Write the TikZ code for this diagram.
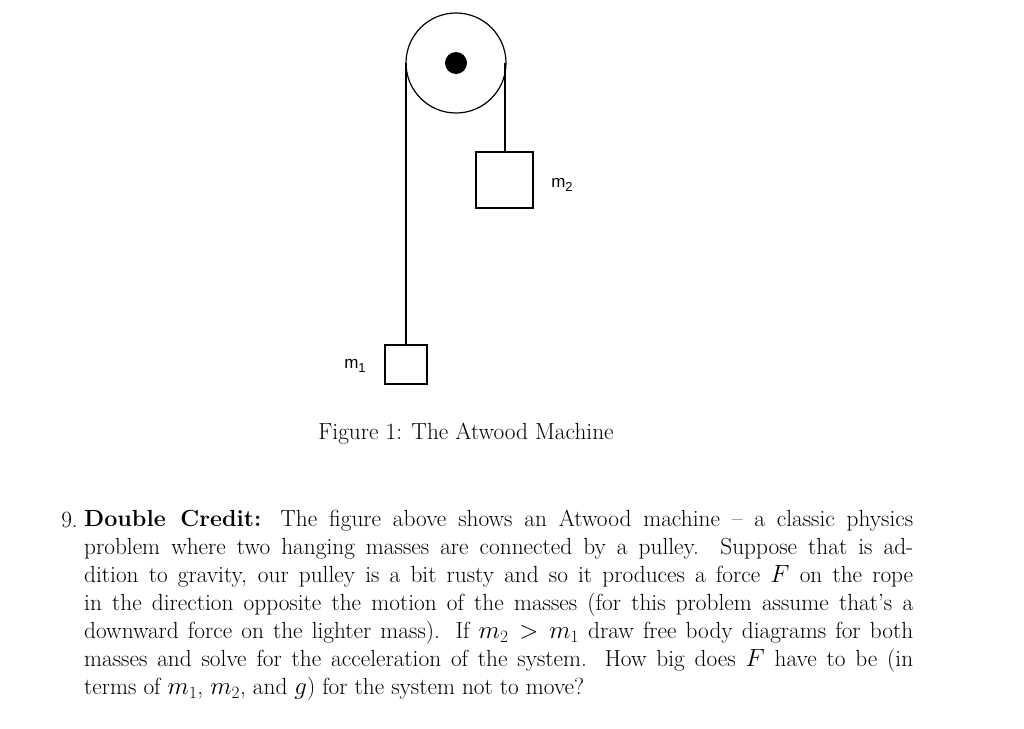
\documentclass[tikz,border=0pt]{standalone}
\usepackage{fontspec}
\newfontfamily\lblfont{Liberation Sans}
\begin{document}
\begin{tikzpicture}[x=1pt,y=1pt,
  mass/.style={draw,line width=1.2pt,inner sep=0pt},
  rope/.style={line width=1.1pt},
  lbl/.style={font=\lblfont\fontsize{17}{20}\selectfont,inner sep=0pt}]
\useasboundingbox (0,0) rectangle (1024,-728);
\node[circle,draw,line width=1.2pt,minimum size=100pt,inner sep=0pt] (pulley) at (456,-63) {};
\node[circle,fill=black,minimum size=22pt,inner sep=0pt] (axle) at (456,-63) {};
\node[mass,minimum width=42pt,minimum height=39pt] (m1) at (406,-364.5) {};
\node[mass,minimum width=57pt,minimum height=56pt] (m2) at (504.5,-180) {};
\coordinate (pl) at (406,-63);
\coordinate (pr) at (505,-63);
\draw[rope] (pl) -- (pl |- m1.north);
\draw[rope] (pr) -- (pr |- m2.north);
\node[lbl] (l2) at (562,-185) {m\raisebox{-4pt}{\fontsize{13}{15}\selectfont 2}};
\node[lbl] (l1) at (355,-366) {m\raisebox{-4pt}{\fontsize{13}{15}\selectfont 1}};
\node[font=\fontsize{23.3}{28}\selectfont,inner sep=0pt,anchor=base] (cap) at (466,-439) {Figure 1: The Atwood Machine};
\node[font=\fontsize{23.3}{28}\selectfont,inner sep=0pt,anchor=base east] (num) at (78,-527) {9.};
\node[font=\fontsize{23.3}{28}\selectfont,inner sep=0pt,anchor=north west,text width=829pt,align=justify] (para) at (84,-510)
{\textbf{Double Credit:} The figure above shows an Atwood machine -- a classic physics\linebreak
problem where two hanging masses are connected by a pulley. Suppose that is ad-\linebreak
dition to gravity, our pulley is a bit rusty and so it produces a force $F$ on the rope\linebreak
in the direction opposite the motion of the masses (for this problem assume that's a\linebreak
downward force on the lighter mass). If $m_2>m_1$ draw free body diagrams for both\linebreak
masses and solve for the acceleration of the system. How big does $F$ have to be (in\linebreak
terms of $m_1$, $m_2$, and $g$) for the system not to move?};
\end{tikzpicture}
\end{document}
